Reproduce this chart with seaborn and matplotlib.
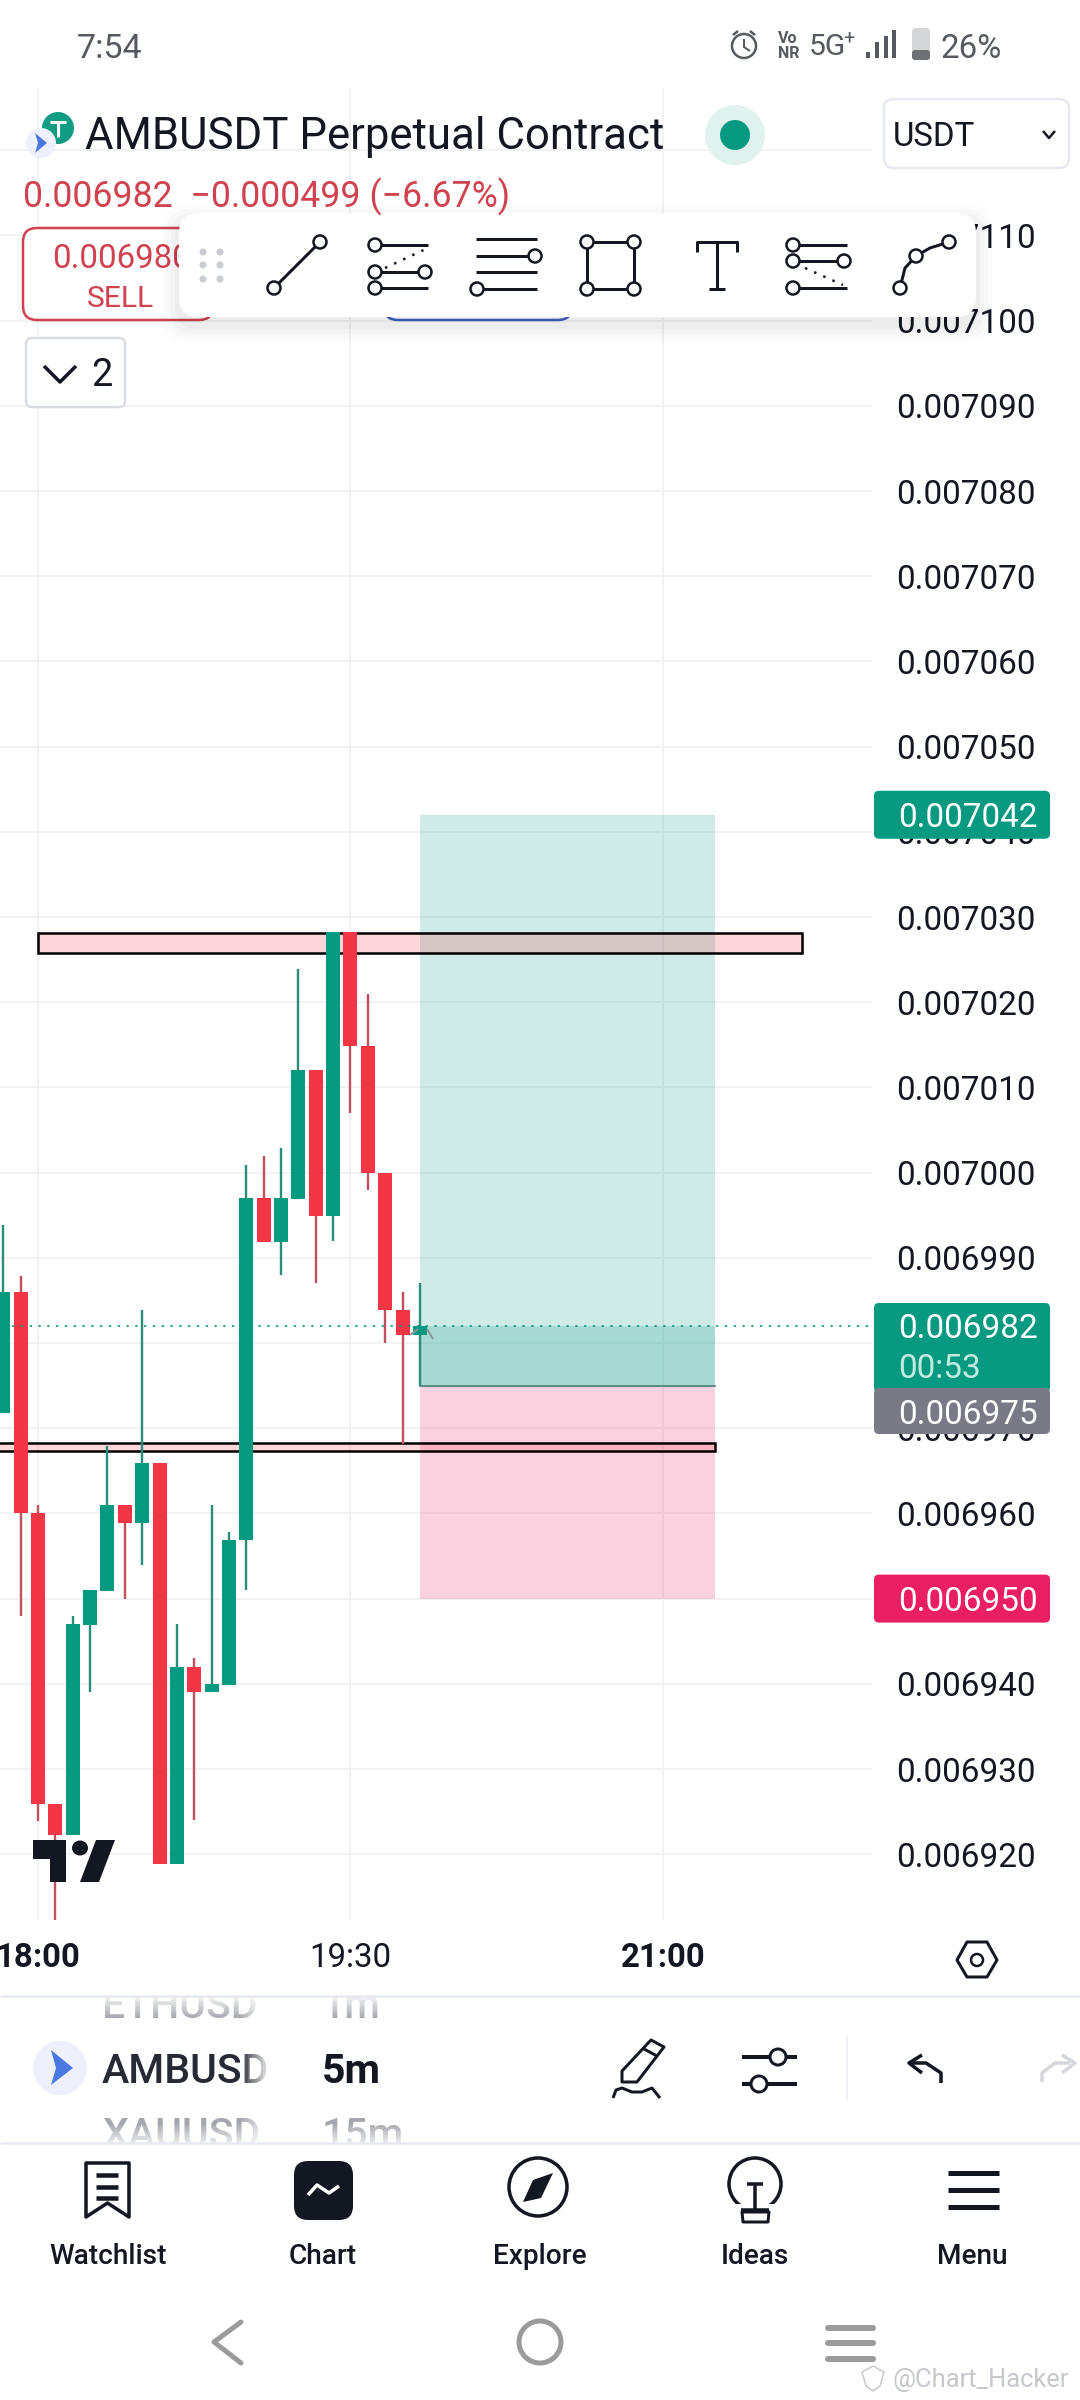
#!/usr/bin/env python3
"""Recreate the AMBUSDT phone screenshot: seaborn candles plus the app chrome around them."""

import matplotlib
matplotlib.use("Agg")
import matplotlib.pyplot as plt
from matplotlib.patches import Circle, Ellipse, FancyBboxPatch, Polygon, Rectangle
import pandas as pd
import seaborn as sns

# Candles, 5m bars, prices in units of 1e-6
CANDLE_IDX = list(range(25))
OPENS = [6971.8, 6986.0, 6960.0, 6925.9, 6922.3, 6946.9, 6950.9, 6961.0, 6958.9, 6965.9, 6918.8, 6942.0, 6939.0,
         6939.9, 6956.9, 6997.0, 6991.9, 6996.9, 7012.0, 6994.9, 7028.2, 7014.9, 6999.9, 6983.9, 6980.9]
CLOSES = [6986.0, 6960.0, 6925.9, 6922.3, 6947.0, 6951.0, 6961.0, 6958.9, 6965.9, 6918.8, 6942.0, 6939.0, 6940.0,
          6956.9, 6997.0, 6991.9, 6997.0, 7012.0, 6994.9, 7028.2, 7014.9, 6999.9, 6983.9, 6980.9, 6982.0]
HIGHS = [6993.9, 6987.9, 6961.0, 6925.9, 6947.9, 6951.0, 6967.9, 6961.0, 6983.9, 6965.9, 6947.0, 6943.0, 6961.0,
         6957.8, 7000.9, 7001.9, 7002.9, 7023.9, 7012.0, 7028.2, 7028.2, 7021.0, 6999.9, 6986.0, 6987.0]
LOWS = [6971.8, 6948.0, 6923.9, 6912.3, 6922.3, 6939.0, 6950.9, 6950.0, 6954.0, 6918.8, 6918.8, 6924.0, 6939.0,
        6939.9, 6951.0, 6991.9, 6988.0, 6996.9, 6987.0, 6992.0, 7007.0, 6998.0, 6980.0, 6968.1, 6975.0]

PRICE_TICKS = [6920, 6930, 6940, 6950, 6960, 6970, 6980, 6990, 7000, 7010, 7020, 7030, 7040, 7050, 7060, 7070,
               7080, 7090, 7100, 7110, 7120]
TIME_TICKS = [2, 20, 38]
TIME_LABELS = ["18:00", "19:30", "21:00"]
TIME_BOLD = [True, False, True]

LAST_PRICE = 6982
TARGET = 7042
ENTRY = 6975
STOP = 6950
POSITION_SPAN = (24, 41)
UPPER_ZONE = (2, 46, 7025.8, 7028.1)
LOWER_ZONE = (-5, 41, 6967.3, 6968.3)

GREEN = "#089981"
RED = "#f23645"
PINK = "#e91e63"
GREY_TAG = "#787b86"
DARK = "#131722"
TEXT_RED = "#d0424f"
GRID = "#f1f2f4"
LINE_UI = "#e6eaf0"

W, H, DPI = 1080, 2400, 100
CHART_RIGHT, CHART_TOP, CHART_BOTTOM = 872, 88, 1920


def pt(px):
    return px * 72 / DPI


def price_y(p):
    return 917 + (7030 - p) * 8.52


def make_long_table():
    rows = []
    for i, o, c, h, l in zip(CANDLE_IDX, OPENS, CLOSES, HIGHS, LOWS):
        d = "up" if c >= o else "down"
        rows.append(dict(idx=i, direction=d, part="wick", price=h))
        rows.append(dict(idx=i, direction=d, part="wick", price=l))
        rows.append(dict(idx=i, direction=d, part="body", price=o))
        rows.append(dict(idx=i, direction=d, part="body", price=c))
    return pd.DataFrame(rows)


def draw_chart(fig):
    ax = fig.add_axes([0, 1 - CHART_BOTTOM / H, CHART_RIGHT / W, (CHART_BOTTOM - CHART_TOP) / H])
    ax.set_facecolor("none")
    for s in ax.spines.values():
        s.set_visible(False)

    # position tool
    x0, x1 = POSITION_SPAN
    ax.fill_between([x0, x1], ENTRY, TARGET, color=GREEN, alpha=0.19, lw=0, zorder=1)
    ax.fill_between([x0, x1], ENTRY, LAST_PRICE, color=GREEN, alpha=0.2, lw=0, zorder=1)
    ax.fill_between([x0, x1], STOP, ENTRY, color=PINK, alpha=0.2, lw=0, zorder=1)
    ax.plot([x0, x1], [ENTRY, ENTRY], color="#5f8c85", lw=pt(2), zorder=2)

    # support and resistance zones
    for left, right, low, high in (UPPER_ZONE, LOWER_ZONE):
        ax.add_patch(Rectangle((left, low), right - left, high - low, facecolor=(0.95, 0.21, 0.27, 0.2),
                               edgecolor="black", lw=pt(2.5), zorder=2.5))

    long_df = make_long_table()
    palette = {"up": GREEN, "down": RED}
    sns.lineplot(data=long_df[long_df.part == "wick"], x="idx", y="price", units="idx", estimator=None,
                 hue="direction", palette={"up": "#2a8d7b", "down": "#c2505f"}, linewidth=pt(2.4),
                 solid_capstyle="butt", legend=False, ax=ax, zorder=3)
    sns.lineplot(data=long_df[long_df.part == "body"], x="idx", y="price", units="idx", estimator=None,
                 hue="direction", palette=palette, linewidth=pt(14), solid_capstyle="butt",
                 legend=False, ax=ax, zorder=4)

    ax.plot([0.5, 50.1], [LAST_PRICE, LAST_PRICE], color=GREEN, lw=pt(1.6), ls=(0, (1.5, 4)), zorder=5)

    ax.set_xlim(2 - 38 / 17.36, 2 + (CHART_RIGHT - 38) / 17.36)
    ax.set_ylim(7030 - (CHART_BOTTOM - 917) / 8.52, 7030 + (917 - CHART_TOP) / 8.52)
    ax.set_xlabel("")
    ax.set_ylabel("")
    ax.set_xticks(TIME_TICKS)
    ax.set_xticklabels(TIME_LABELS)
    for lab, bold in zip(ax.get_xticklabels(), TIME_BOLD):
        lab.set_fontweight("bold" if bold else "normal")
        lab.set_color(DARK)
    ax.set_yticks(PRICE_TICKS)
    ax.set_yticklabels([f"{p / 1e6:.6f}" for p in PRICE_TICKS])
    ax.yaxis.tick_right()
    ax.tick_params(axis="y", length=0, pad=pt(24), labelsize=pt(33.3), labelcolor=DARK)
    ax.tick_params(axis="x", length=0, pad=pt(22), labelsize=pt(33), labelcolor=DARK)
    ax.grid(True, color=GRID, lw=pt(2))
    ax.set_axisbelow(True)
    return ax


class Ui:
    """Screen chrome in pixel coordinates, y down."""

    def __init__(self, fig):
        self.ax = fig.add_axes([0, 0, 1, 1], zorder=10)
        self.ax.set_xlim(0, W)
        self.ax.set_ylim(H, 0)
        self.ax.axis("off")
        self.ax.patch.set_alpha(0)

    def line(self, xs, ys, color=DARK, lw=3, z=5, cap="butt", **kw):
        self.ax.plot(xs, ys, color=color, lw=pt(lw), zorder=z, solid_capstyle=cap, solid_joinstyle="round", **kw)

    def box(self, x0, y0, x1, y1, r=8, fc="white", ec="none", lw=2, z=3, alpha=None):
        self.ax.add_patch(FancyBboxPatch((x0 + r, y0 + r), x1 - x0 - 2 * r, y1 - y0 - 2 * r,
                                         boxstyle=f"round,pad={r},rounding_size={r}", fc=fc, ec=ec, lw=pt(lw),
                                         zorder=z, alpha=alpha))

    def dot(self, x, y, r, fc="white", ec=DARK, lw=2.5, z=6):
        self.ax.add_patch(Circle((x, y), r, fc=fc, ec=ec, lw=pt(lw), zorder=z))

    def poly(self, pts, fc=DARK, ec="none", lw=0, z=6, closed=True):
        self.ax.add_patch(Polygon(pts, closed=closed, fc=fc, ec=ec, lw=pt(lw), zorder=z, joinstyle="round"))

    def text(self, x, y, s, size=32, color=DARK, ha="left", weight="normal", z=7, **kw):
        return self.ax.text(x, y, s, fontsize=pt(size), color=color, ha=ha, va="center_baseline",
                            fontweight=weight, zorder=z, **kw)


def status_bar(ui):
    grey = "#555a60"
    ui.text(77, 45, "7:54", 34, grey)
    ui.dot(744, 46, 12, fc="none", ec=grey, lw=2.5)
    ui.line([744, 744, 750], [39, 47, 51], grey, 2)
    ui.line([733, 738], [35, 31], grey, 2.5)
    ui.line([750, 755], [31, 35], grey, 2.5)
    ui.text(778, 37, "Vo", 16, grey, weight="bold")
    ui.text(778, 52, "NR", 16, grey, weight="bold")
    ui.text(809, 44, "5G", 30, grey, stretch="condensed")
    ui.text(843, 36, "+", 20, grey)
    for x, top in zip((868, 877, 886, 894), (52, 42, 36, 30)):
        ui.line([x, x], [top, 58], grey, 4)
    ui.box(912, 28, 930, 60, r=4, fc="#d5d6d8", z=4)
    ui.box(912, 50, 930, 60, r=3, fc="#6d7075", z=5)
    ui.text(941, 46, "26%", 33, grey)


def header(ui):
    ui.dot(58, 128, 16, fc="#119c84", ec="none")
    ui.line([50, 66], [122, 122], "white", 3, z=7)
    ui.line([58, 58], [122, 137], "white", 3, z=7)
    ui.dot(41, 143, 15, fc="#eef1fb", ec="none", z=7)
    ui.poly([(35, 133), (47, 143), (35, 153), (38, 143)], fc="#4a78e0", z=8)
    ui.text(85, 133, "AMBUSDT Perpetual Contract", 43.8)
    ui.dot(735, 135, 30, fc="#dff2ee", ec="none")
    ui.dot(735, 135, 15, fc=GREEN, ec="none", z=7)
    ui.box(884, 99, 1069, 168, r=10, ec=LINE_UI, lw=2.5, z=4)
    ui.text(893, 134, "USDT", 33)
    ui.line([1043, 1049, 1055], [131, 138, 131], DARK, 2.5)
    ui.text(23, 193, "0.006982  \u22120.000499 (\u22126.67%)", 35.6, TEXT_RED)

    ui.box(23, 228, 213, 320, r=14, ec=TEXT_RED, lw=2.5, z=2)
    ui.text(52, 256, "0.006980", 33, TEXT_RED, z=2.5)
    ui.text(120, 296, "SELL", 30, TEXT_RED, ha="center", z=2.5)
    ui.box(384, 240, 572, 320, r=14, ec="#3d5fc4", lw=2.5, z=2)

    ui.box(26, 338, 125, 407, r=6, ec="#dadde3", lw=2.5, z=3)
    ui.line([44, 60, 76], [366, 382, 366], DARK, 3.5)
    ui.text(91, 372, "2", 38)


def toolbar(ui):
    for grow, a in ((16, 0.012), (12, 0.016), (8, 0.02), (4, 0.025)):
        ui.box(179 - grow, 213 + 8 - grow, 976 + grow, 317 + 8 + grow, r=22, fc="black", z=3.1, alpha=a)
    ui.box(179, 213, 976, 317, r=20, z=3.5)
    for x in (203, 220):
        for y in (252, 265, 279):
            ui.dot(x, y, 3.5, fc="#c9ccd2", ec="none")
    lw = 3

    ui.line([274, 320], [288, 242], lw=lw)
    for p in ((274, 288), (320, 242)):
        ui.dot(*p, 6.5)

    ui.line([375, 428], [245, 245], lw=lw)
    ui.line([375, 425], [272, 272], lw=lw)
    ui.line([375, 428], [288, 288], lw=lw)
    ui.line([385, 428], [268, 248], lw=2.5, ls=(0, (1, 3)))
    for p in ((375, 245), (375, 272), (425, 272), (375, 288)):
        ui.dot(*p, 6.5)

    for y, x0, x1 in ((239, 476, 537), (256, 476, 535), (272, 476, 537), (289, 477, 537)):
        ui.line([x0, x1], [y, y], lw=lw)
    ui.dot(535, 256, 6.5)
    ui.dot(477, 289, 6.5)

    ui.line([587, 634, 634, 587, 587], [242, 242, 289, 289, 242], lw=lw)
    for p in ((587, 242), (634, 242), (587, 289), (634, 289)):
        ui.dot(*p, 6.5)

    ui.line([697, 697, 737, 737], [252, 242, 242, 252], lw=lw)
    ui.line([717, 717], [242, 289], lw=lw)
    ui.line([709, 725], [289, 289], lw=lw)

    ui.line([793, 847], [245, 245], lw=lw)
    ui.line([793, 844], [261, 261], lw=lw)
    ui.line([793, 847], [288, 288], lw=lw)
    ui.line([805, 843], [268, 285], lw=2.5, ls=(0, (1, 3)))
    for p in ((793, 245), (793, 261), (844, 261), (793, 288)):
        ui.dot(*p, 6.5)

    ui.line([900, 905, 916, 930, 949], [288, 268, 256, 248, 242], lw=lw)
    for p in ((900, 288), (916, 256), (949, 242)):
        ui.dot(*p, 6.5)


def price_tags(ui):
    def tag(y0, y1, color):
        ui.box(874, y0, 1050, y1, r=5, fc=color, z=3)

    tag(price_y(TARGET) - 24, price_y(TARGET) + 24, GREEN)
    ui.text(898, price_y(TARGET), f"{TARGET / 1e6:.6f}", 33.3, "white")
    tag(price_y(LAST_PRICE) - 23, 1392, GREEN)
    ui.text(898, price_y(LAST_PRICE), f"{LAST_PRICE / 1e6:.6f}", 33.3, "white")
    ui.text(898, 1365, "00:53", 33.3, "#c0ebe1")
    tag(1388, 1434, GREY_TAG)
    ui.text(898, 1411, f"{ENTRY / 1e6:.6f}", 33.3, "white")
    tag(price_y(STOP) - 24, price_y(STOP) + 24, PINK)
    ui.text(898, price_y(STOP), f"{STOP / 1e6:.6f}", 33.3, "white")

    # drag handle next to the live candle
    ui.line([410, 418], [1335, 1329], "#8d9695", 2)
    ui.line([427, 433], [1329, 1339], "#8d9695", 2)


def tv_logo(ui):
    ui.poly([(33, 1840), (65.5, 1840), (65.5, 1882), (50, 1882), (50, 1859), (33, 1859)], fc=DARK)
    ui.ax.add_patch(Ellipse((80, 1848), 16, 15, fc=DARK, ec="none", zorder=6))
    ui.poly([(96, 1840), (115, 1840), (99, 1882), (80, 1882)], fc=DARK)


def bottom_bars(ui):
    # hexagon settings button
    ui.poly([(967, 1942), (987, 1942), (997, 1960), (987, 1977), (967, 1977), (957, 1960)], fc="white", ec=DARK, lw=3)
    ui.dot(977, 1960, 6, lw=2.5)

    # scrolling symbol picker, clipped by the two rules and faded towards them
    faded = "#a4a7ae"
    top_clip = Rectangle((0, 1997), W, 60, transform=ui.ax.transData)
    low_clip = Rectangle((0, 2100), W, 43, transform=ui.ax.transData)
    for x, s in ((102, "ETHUSD"), (322, "1m")):
        t = ui.text(x, 2003, s, 41, faded, weight="medium", clip_on=True)
        t.set_clip_path(top_clip)
    for x, s in ((102, "XAUUSD"), (322, "15m")):
        t = ui.text(x, 2132, s, 41, faded, weight="medium", clip_on=True)
        t.set_clip_path(low_clip)
    for i in range(8):
        ui.ax.add_patch(Rectangle((0, 1997 + i * 2.5), 480, 2.5, fc="white", ec="none", alpha=0.8 - i * 0.1, zorder=8))
        ui.ax.add_patch(Rectangle((0, 2142 - i * 2.5), 480, 2.5, fc="white", ec="none", alpha=0.8 - i * 0.1, zorder=8))
    for i in range(10):
        ui.ax.add_patch(Rectangle((242 + i * 3, 1997), 3, 146, fc="white", ec="none", alpha=(i + 1) / 10, zorder=8))
    ui.ax.add_patch(Rectangle((272, 1997), 40, 146, fc="white", ec="none", zorder=8))
    ui.line([0, W], [1996, 1996], LINE_UI, 2.5, z=9)
    ui.line([0, W], [2143, 2143], LINE_UI, 2.5, z=9)
    ui.dot(60, 2068, 27, fc="#eef1fb", ec="none")
    ui.poly([(51, 2050), (73, 2068), (51, 2085), (56, 2068)], fc="#4a78e0", z=7)
    ui.text(102, 2068, "AMBUSDT", 41, "#262a35", weight="medium", z=7)
    ui.text(322, 2068, "5m", 41, DARK, weight="bold", z=9)

    # pencil, sliders, undo, redo
    ui.poly([(651, 2040), (664, 2047), (637, 2082), (622, 2082), (622, 2071)], fc="white", ec=DARK, lw=3)
    ui.line([644, 657], [2049, 2056], lw=3, z=7)
    ui.line([613, 616, 622, 632, 642, 652, 660], [2098, 2090, 2088, 2092, 2092, 2088, 2098], lw=3)
    ui.line([742, 797], [2057, 2057], lw=4)
    ui.line([742, 797], [2084, 2084], lw=4)
    ui.dot(778, 2057, 8, lw=3)
    ui.dot(759, 2084, 8, lw=3)
    ui.line([847, 847], [2036, 2100], "#eef0f3", 2)
    ui.line([941, 941, 926, 911], [2083, 2073, 2063, 2063], lw=3.5)
    ui.line([922, 909, 922], [2055, 2063, 2073], lw=3.5)
    ui.line([1042, 1042, 1055, 1070], [2082, 2073, 2063, 2063], "#d5d7dc", 3.5)
    ui.line([1062, 1075, 1062], [2055, 2063, 2073], "#d5d7dc", 3.5)


def nav_bar(ui):
    ui.poly([(86, 2163), (129, 2163), (129, 2217), (107.5, 2203), (86, 2217)], fc="white", ec=DARK, lw=3.5)
    for y in (2175, 2187, 2198):
        ui.line([96, 118], [y, y], lw=4.5, z=7)
    ui.box(294, 2161, 353, 2220, r=14, fc=DARK, z=5)
    ui.line([308, 317, 329, 339], [2195, 2185, 2193, 2186], "white", 3.5, z=6)
    ui.dot(538, 2187, 29, lw=3.5)
    ui.poly([(553, 2173), (541, 2198), (523, 2202), (533, 2180)], fc=DARK, z=7)
    ui.dot(755, 2184, 26, lw=3.5)
    ui.line([747, 763], [2184, 2184], lw=3.5, z=7)
    ui.line([755, 755], [2184, 2209], lw=3.5, z=7)
    ui.ax.add_patch(Rectangle((735, 2204), 40, 6, fc="white", ec="none", zorder=6.5))
    ui.line([741, 769], [2210, 2210], lw=3.5, z=7)
    ui.poly([(742, 2212), (769, 2212), (768, 2222), (743, 2222)], fc="white", ec=DARK, lw=3, z=7)
    for y in (2173, 2190, 2207):
        ui.line([948, 999], [y, y], lw=5)
    for x, s in ((108, "Watchlist"), (323, "Chart"), (540, "Explore"), (755, "Ideas"), (972, "Menu")):
        ui.text(x, 2254, s, 28, DARK, ha="center", weight="medium")

    # android keys
    key = "#9b9b9b"
    ui.line([241, 214, 241], [2322, 2342, 2363], key, 5, cap="round")
    ui.dot(540, 2342, 21, ec=key, lw=5)
    for y in (2328, 2343, 2359):
        ui.line([828, 873], [y, y], key, 6, cap="round")

    # watermark
    wm = "#c6c8cc"
    ui.text(892, 2378, "@Chart_Hacker", 25.5, wm)
    ui.poly([(862, 2372), (873, 2366), (884, 2372), (880, 2386), (873, 2391), (866, 2386)], fc="none", ec=wm, lw=1.5, closed=True)


def main():
    sns.set_theme(style="whitegrid")
    plt.rcParams["font.family"] = ["Roboto", "DejaVu Sans"]

    fig = plt.figure(figsize=(W / DPI, H / DPI), dpi=DPI, facecolor="white")
    draw_chart(fig)

    ui = Ui(fig)
    status_bar(ui)
    header(ui)
    toolbar(ui)
    price_tags(ui)
    tv_logo(ui)
    bottom_bars(ui)
    nav_bar(ui)

    fig.savefig("out.png", dpi=DPI, facecolor="white")
    plt.close(fig)


if __name__ == "__main__":
    main()
